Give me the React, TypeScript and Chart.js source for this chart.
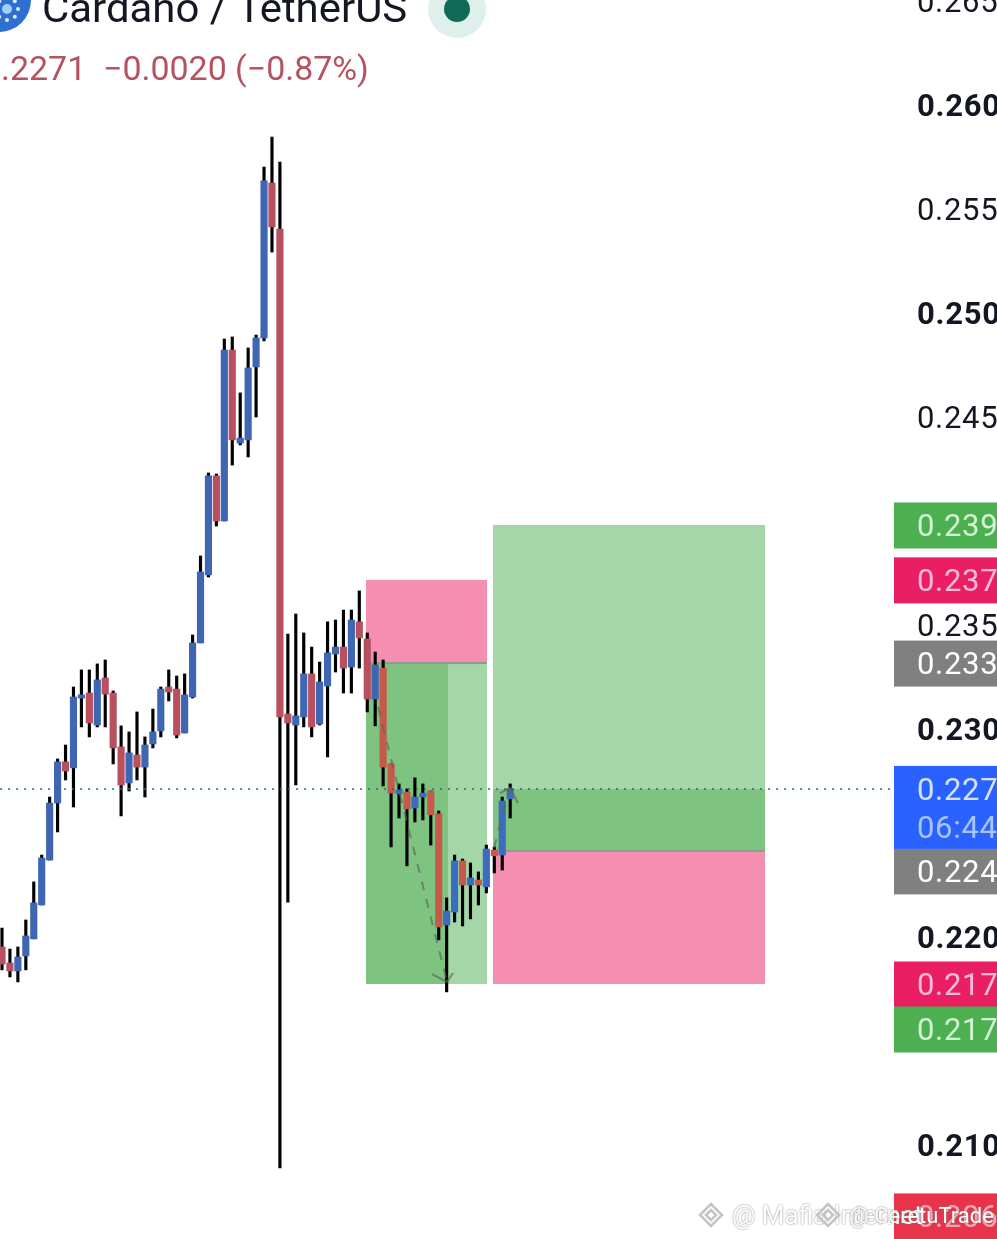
import React, { useEffect, useRef } from 'react';
import { Chart, registerables } from 'chart.js';

Chart.register(...registerables);

// candle index is the x value, one candle per entry
const candleHigh = [
  0.22043, 0.21942, 0.21952, 0.22082, 0.22265, 0.22394, 0.22673, 0.22856, 0.22923, 0.23202,
  0.23284, 0.23284, 0.23313, 0.23332, 0.23183, 0.23015, 0.22986, 0.23082, 0.22962, 0.23096,
  0.23202, 0.23284, 0.23255, 0.23265, 0.23452, 0.23832, 0.24231, 0.24226, 0.24875, 0.24885,
  0.24616, 0.24832, 0.24894, 0.25702, 0.25846, 0.25726, 0.23457, 0.23553, 0.23462, 0.23394,
  0.23322, 0.23515, 0.23524, 0.23572, 0.23572, 0.23664, 0.23462, 0.2337, 0.23332, 0.22832,
  0.22736, 0.22712, 0.22765, 0.22736, 0.22702, 0.22606, 0.22188, 0.22394, 0.22375, 0.22356,
  0.22313, 0.22442, 0.22433, 0.22673, 0.22736,
];
const candleLow = [
  0.21842, 0.21808, 0.21784, 0.21842, 0.21991, 0.22154, 0.2237, 0.22505, 0.22755, 0.22625,
  0.2301, 0.22962, 0.2301, 0.2301, 0.22832, 0.22582, 0.22702, 0.22755, 0.22673, 0.22909,
  0.22962, 0.23135, 0.22957, 0.22981, 0.23149, 0.23414, 0.23731, 0.23976, 0.24, 0.24269,
  0.24366, 0.24308, 0.245, 0.24866, 0.25293, 0.2089, 0.22168, 0.22731, 0.2301, 0.22962,
  0.23019, 0.22866, 0.23274, 0.23173, 0.23173, 0.23293, 0.23082, 0.23015, 0.22726, 0.22433,
  0.22572, 0.22342, 0.22553, 0.22563, 0.22442, 0.21986, 0.21736, 0.22072, 0.22053, 0.22087,
  0.22154, 0.22212, 0.22308, 0.22322, 0.22572,
];
const candleOpen = [
  0.21952, 0.21875, 0.21837, 0.21909, 0.21991, 0.22154, 0.2237, 0.22644, 0.22842, 0.22813,
  0.23149, 0.23173, 0.23019, 0.23245, 0.23173, 0.22914, 0.22741, 0.22875, 0.22817, 0.22928,
  0.22991, 0.23202, 0.23192, 0.22981, 0.23154, 0.23414, 0.23741, 0.24217, 0.24, 0.24822,
  0.24375, 0.2439, 0.24741, 0.2488, 0.25625, 0.25404, 0.23072, 0.23019, 0.23058, 0.23265,
  0.23024, 0.23207, 0.23361, 0.23394, 0.23298, 0.23515, 0.23433, 0.23144, 0.23293, 0.22832,
  0.22688, 0.22697, 0.2262, 0.22673, 0.22702, 0.22592, 0.22058, 0.2212, 0.22366, 0.2225,
  0.22274, 0.22241, 0.22418, 0.22394, 0.22664,
];
const candleClose = [
  0.2187, 0.21837, 0.21904, 0.22005, 0.22164, 0.2238, 0.22644, 0.22842, 0.22798, 0.23154,
  0.23164, 0.23029, 0.23236, 0.23168, 0.22909, 0.22731, 0.22885, 0.22817, 0.22923, 0.22986,
  0.23192, 0.23178, 0.22971, 0.23164, 0.23414, 0.23755, 0.24217, 0.24, 0.24822, 0.2439,
  0.24399, 0.24736, 0.2488, 0.25635, 0.25414, 0.23058, 0.23029, 0.23063, 0.23265, 0.2301,
  0.23226, 0.23366, 0.23394, 0.23293, 0.23524, 0.23438, 0.23144, 0.23308, 0.22817, 0.22692,
  0.22707, 0.22616, 0.22673, 0.22692, 0.22587, 0.22048, 0.22125, 0.22366, 0.2225, 0.22284,
  0.2225, 0.22423, 0.2239, 0.22654, 0.22712,
];

const yTicks = [0.265, 0.26, 0.255, 0.25, 0.245, 0.24, 0.235, 0.23, 0.225, 0.22, 0.215, 0.21];

const lastPrice = 0.22712;
const priceLineX = [-0.25, 111.84];

// trade projection arrows (candle index, price)
const downArrowX = [47.35, 56.05];
const downArrowY = [0.23106, 0.21784];
const downHeadX = [54.16, 56.05, 56.8];
const downHeadY = [0.21822, 0.21784, 0.21827];
const upArrowX = [61.96, 63.98];
const upArrowY = [0.22428, 0.22717];
const upHeadX = [62.72, 63.98, 64.99];
const upHeadY = [0.22692, 0.22717, 0.22644];

// position tool boxes: from x, to x, top price, bottom price
const zoneFromX = [45.84, 45.84, 56.17, 61.84, 61.84, 61.84];
const zoneToX = [61.08, 56.17, 61.08, 96.1, 96.1, 96.1];
const zoneTop = [0.23717, 0.23317, 0.23317, 0.23981, 0.22712, 0.22414];
const zoneBottom = [0.23317, 0.21774, 0.21774, 0.22712, 0.22414, 0.21774];
const zoneFill = ['#f48fb1', '#7fc380', '#a5d6a7', '#a5d6a7', '#7fc380', '#f48fb1'];

// price tags on the right axis
const tagPrices = [0.23981, 0.23717, 0.23317, 0.22414, 0.21774, 0.21774, 0.20659];
const tagLabels = ['0.239', '0.237', '0.233', '0.224', '0.217', '0.217', '0.206'];
const tagFill = ['#4caf50', '#e91e63', '#808080', '#808080', '#e91e63', '#4caf50', '#e8334a'];
const tagText = ['#d4f2d5', '#f8bbd9', '#ffffff', '#ffffff', '#f8bbd9', '#d4f2d5', '#f3a6b0'];
const tagShift = [0, 0, 0, 20, 0, 45, 0];

const xAt = (xs: number[], ys: number[]) => xs.map((x, i) => ({ x, y: ys[i] }));

const zonesPlugin = {
  id: 'zones',
  beforeDatasetsDraw(chart: any) {
    const { ctx, scales } = chart;
    zoneFill.forEach((fill, i) => {
      const left = scales.x.getPixelForValue(zoneFromX[i]);
      const right = scales.x.getPixelForValue(zoneToX[i]);
      const top = scales.y.getPixelForValue(zoneTop[i]);
      const bottom = scales.y.getPixelForValue(zoneBottom[i]);
      ctx.fillStyle = fill;
      ctx.fillRect(left, top, right - left, bottom - top);
    });
    // edges where the boxes meet
    ctx.fillStyle = '#86a088';
    const edge = (from: number, to: number, price: number) => {
      const left = scales.x.getPixelForValue(from);
      const right = scales.x.getPixelForValue(to);
      ctx.fillRect(left, scales.y.getPixelForValue(price) - 1, right - left, 2);
    };
    edge(45.84, 61.08, 0.23317);
    edge(61.84, 96.1, 0.22414);
  },
};

const labelsPlugin = {
  id: 'labels',
  afterDraw(chart: any) {
    const { ctx, scales } = chart;
    const left = 894;
    const textX = 917;
    ctx.save();
    ctx.letterSpacing = '0.7px';
    ctx.textBaseline = 'alphabetic';
    ctx.textAlign = 'left';

    // axis labels, the whole cents are bold
    ctx.fillStyle = '#131722';
    yTicks.forEach((value) => {
      const bold = Math.round(value * 1000) % 10 === 0;
      ctx.font = `${bold ? 'bold ' : ''}31px Roboto`;
      ctx.fillText(value.toFixed(3), textX, scales.y.getPixelForValue(value) + 11);
    });

    ctx.font = '31px Roboto';
    tagFill.forEach((fill, i) => {
      const mid = scales.y.getPixelForValue(tagPrices[i]) + tagShift[i];
      ctx.fillStyle = fill;
      ctx.fillRect(left, mid - 22.5, 103, 46);
      ctx.fillStyle = tagText[i];
      ctx.fillText(tagLabels[i], textX, mid + 11);
    });
    // last price tag with the countdown under it
    const lastY = scales.y.getPixelForValue(lastPrice);
    ctx.fillStyle = '#2962ff';
    ctx.fillRect(left, lastY - 23, 103, 83);
    ctx.fillStyle = '#d6e2fd';
    ctx.fillText('0.227', textX, lastY + 11);
    ctx.fillStyle = '#a9c4fb';
    ctx.fillText('06:44', textX, lastY + 49);
    ctx.restore();
  },
};

const Watermark = ({ left, size, text }: { left: number; size: number; text: string }) => (
  <div style={{
    position: 'absolute', left, top: 1199, height: 32, display: 'flex', alignItems: 'center', gap: 8,
    font: `${size}px Roboto`, color: '#ffffff', textShadow: '0 0 2px #777777', whiteSpace: 'nowrap',
  }}>
    <svg width="26" height="26" viewBox="0 0 26 26">
      <path d="M13 2 L24 13 L13 24 L2 13 Z M13 8 L18 13 L13 18 L8 13 Z" fill="none" stroke="#c4c4c4" strokeWidth="2.5" />
    </svg>
    {text}
  </div>
);

const App = () => {
  const canvasRef = useRef<HTMLCanvasElement>(null);

  useEffect(() => {
    if (!canvasRef.current) return;

    const bodies = candleOpen.map((open, i) => ({ x: i, y: [open, candleClose[i]] }));
    const wicks = candleLow.map((low, i) => ({ x: i, y: [low, candleHigh[i]] }));
    const bodyColors = candleOpen.map((open, i) => {
      const up = candleClose[i] >= open;
      if (i >= 48) return up ? '#3b6cc0' : '#c65a4a';
      return up ? '#3f66b2' : '#b85060';
    });

    const arrowStyle = {
      type: 'line' as const,
      borderColor: 'rgba(90,100,90,0.65)',
      borderWidth: 2,
      pointRadius: 0,
      tension: 0,
      order: 1,
    };

    const chart = new Chart(canvasRef.current, {
      type: 'bar',
      data: {
        datasets: [
          { type: 'line', data: xAt(priceLineX, [lastPrice, lastPrice]), borderColor: '#1d6f72', borderWidth: 1.5, borderDash: [2, 6], pointRadius: 0, order: 0 },
          { ...arrowStyle, data: xAt(downArrowX, downArrowY), borderDash: [9, 9] },
          { ...arrowStyle, data: xAt(downHeadX, downHeadY) },
          { ...arrowStyle, data: xAt(upArrowX, upArrowY), borderDash: [9, 9] },
          { ...arrowStyle, data: xAt(upHeadX, upHeadY) },
          { data: bodies, backgroundColor: bodyColors, barThickness: 6.5, grouped: false, order: 2 },
          { data: wicks, backgroundColor: '#000000', barThickness: 2.5, grouped: false, order: 3 },
        ] as any,
      },
      options: {
        responsive: false,
        animation: false,
        devicePixelRatio: 1,
        layout: { padding: 0 },
        plugins: { legend: { display: false }, tooltip: { enabled: false } },
        scales: {
          x: { type: 'linear', display: false, min: -0.252, max: 125.31, offset: false },
          y: { type: 'linear', display: false, position: 'right', min: 0.20548, max: 0.26505 },
        },
      } as any,
      plugins: [zonesPlugin, labelsPlugin],
    });

    return () => {
      chart.destroy();
    };
  }, []);

  return (
    <div style={{ position: 'absolute', left: 0, top: 0, width: 997, height: 1239, overflow: 'hidden', background: '#ffffff' }}>
      <canvas ref={canvasRef} width={997} height={1239} style={{ display: 'block' }} />
      <svg width="40" height="40" style={{ position: 'absolute', left: 0, top: 0 }}>
        <circle cx="-1" cy="0" r="32" fill="#2f6fd0" />
        {[0, 1, 2, 3, 4, 5, 6, 7].map((n) => (
          <circle key={n} cx={7 + 11 * Math.cos(n * 0.785)} cy={9 + 11 * Math.sin(n * 0.785)} r="2" fill="#d8ecff" />
        ))}
        <circle cx="7" cy="9" r="5" fill="#9fd0f5" />
      </svg>
      <div style={{ position: 'absolute', left: 42, top: -15, font: '40px Roboto', color: '#131722', whiteSpace: 'nowrap', transform: 'scaleX(1.048)', transformOrigin: 'left' }}>Cardano / TetherUS</div>
      <div style={{ position: 'absolute', left: 428, top: -20, width: 58, height: 58, borderRadius: '50%', background: '#dff0ec' }} />
      <div style={{ position: 'absolute', left: 444, top: -4, width: 26, height: 26, borderRadius: '50%', background: '#0f6b57' }} />
      <div style={{ position: 'absolute', left: 1, top: 49, font: '33px Roboto', color: '#b5525f', whiteSpace: 'pre', transform: 'scaleX(1.028)', transformOrigin: 'left' }}>.2271  −0.0020 (−0.87%)</div>
      <Watermark left={698} size={26} text="@ Mafia Internet" />
      <Watermark left={815} size={22} text="@ CeretuTrade" />
    </div>
  );
};

export default App;
